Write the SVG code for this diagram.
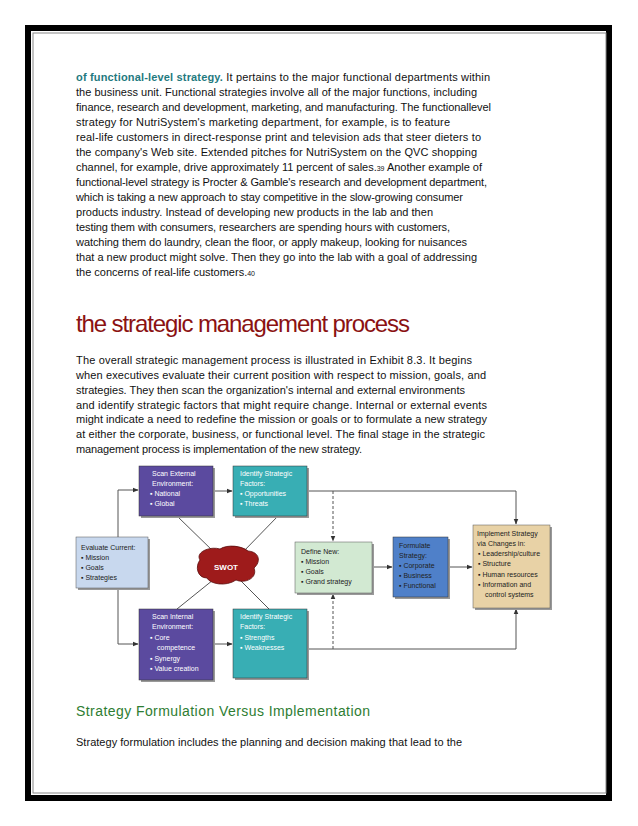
<svg xmlns="http://www.w3.org/2000/svg" width="638" height="826" viewBox="0 0 638 826">
<defs>
<style>
.b{font-family:"Liberation Sans",Arial,sans-serif;font-size:11px;fill:#111}
.t{font-family:"Liberation Sans",Arial,sans-serif;font-size:7px}
.w{fill:#fff}.k{fill:#222}
.c{stroke:#555;stroke-width:1;fill:none}
.sh{fill:#999}
</style>
<marker id="a" viewBox="0 0 10 10" refX="9" refY="5" markerWidth="6" markerHeight="6" orient="auto"><path d="M0 1L10 5L0 9z" fill="#333"/></marker>
</defs>
<rect width="638" height="826" fill="#fff"/>
<rect x="28" y="28" width="581" height="770" fill="none" stroke="#000" stroke-width="6"/>
<rect x="33" y="33" width="573" height="760" fill="none" stroke="#888" stroke-width="1"/>
<g id="text1">
<text class="b" x="76" y="81" textLength="414"><tspan fill="#1f7a80" font-weight="bold">of functional-level strategy.</tspan> It pertains to the major functional departments within</text>
<text class="b" x="76" y="96" textLength="401">the business unit. Functional strategies involve all of the major functions, including</text>
<text class="b" x="76" y="111" textLength="415">finance, research and development, marketing, and manufacturing. The functionallevel</text>
<text class="b" x="76" y="126" textLength="374">strategy for NutriSystem's marketing department, for example, is to feature</text>
<text class="b" x="76" y="141" textLength="405">real-life customers in direct-response print and television ads that steer dieters to</text>
<text class="b" x="76" y="156" textLength="401">the company's Web site. Extended pitches for NutriSystem on the QVC shopping</text>
<text class="b" x="76" y="171" textLength="406">channel, for example, drive approximately 11 percent of sales.<tspan font-size="7">39</tspan> Another example of</text>
<text class="b" x="76" y="186" textLength="411">functional-level strategy is Procter &amp; Gamble's research and development department,</text>
<text class="b" x="76" y="201" textLength="387">which is taking a new approach to stay competitive in the slow-growing consumer</text>
<text class="b" x="76" y="216" textLength="357">products industry. Instead of developing new products in the lab and then</text>
<text class="b" x="76" y="231" textLength="374">testing them with consumers, researchers are spending hours with customers,</text>
<text class="b" x="76" y="246" textLength="391">watching them do laundry, clean the floor, or apply makeup, looking for nuisances</text>
<text class="b" x="76" y="261" textLength="401">that a new product might solve. Then they go into the lab with a goal of addressing</text>
<text class="b" x="76" y="276" textLength="179">the concerns of real-life customers.<tspan font-size="7">40</tspan></text>
</g>
<text x="76" y="332" font-family="'Liberation Sans',Arial,sans-serif" font-size="24" fill="#8b1212" textLength="334">the strategic management process</text>
<g id="text2">
<text class="b" x="76" y="364" textLength="396">The overall strategic management process is illustrated in Exhibit 8.3. It begins</text>
<text class="b" x="76" y="379" textLength="410">when executives evaluate their current position with respect to mission, goals, and</text>
<text class="b" x="76" y="394" textLength="389">strategies. They then scan the organization's internal and external environments</text>
<text class="b" x="76" y="409" textLength="411">and identify strategic factors that might require change. Internal or external events</text>
<text class="b" x="76" y="423" textLength="411">might indicate a need to redefine the mission or goals or to formulate a new strategy</text>
<text class="b" x="76" y="438" textLength="409">at either the corporate, business, or functional level. The final stage in the strategic</text>
<text class="b" x="76" y="453" textLength="286">management process is implementation of the new strategy.</text>
</g>
<g id="connectors">
<path class="c" d="M118 537V490H138" marker-end="url(#a)"/>
<path class="c" d="M118 588V644H138" marker-end="url(#a)"/>
<path class="c" d="M213 491H232" marker-end="url(#a)"/>
<path class="c" d="M213 644H232" marker-end="url(#a)"/>
<path class="c" d="M307 491H516V524" marker-end="url(#a)"/>
<path class="c" d="M307 649H516V609" marker-end="url(#a)"/>
<path class="c" d="M333 491V541" stroke-dasharray="3 2" marker-end="url(#a)"/>
<path class="c" d="M333 649V594" stroke-dasharray="3 2" marker-end="url(#a)"/>
<path class="c" d="M372 567H392" marker-end="url(#a)"/>
<path class="c" d="M448 567H472" marker-end="url(#a)"/>
<path class="c" d="M177 516L215 553M278 516L242 553M177 609L213 580M269 609L240 580"/>
</g>
<g id="scanExt">
<rect class="sh" x="141" y="468" width="74" height="50"/>
<rect x="139" y="466" width="74" height="50" fill="#5b4a9f" stroke="#333" stroke-width="0.5"/>
<text class="t w" x="152" y="476">Scan External</text><text class="t w" x="152" y="486">Environment:</text>
<text class="t w" x="150" y="496">▪ National</text><text class="t w" x="150" y="506">▪ Global</text>
</g>
<g id="idOpp">
<rect class="sh" x="235" y="468" width="74" height="50"/>
<rect x="233" y="466" width="74" height="50" fill="#38aeb4" stroke="#333" stroke-width="0.5"/>
<text class="t w" x="240" y="476">Identify Strategic</text><text class="t w" x="240" y="486">Factors:</text>
<text class="t w" x="240" y="496">▪ Opportunities</text><text class="t w" x="240" y="506">▪ Threats</text>
</g>
<g id="evaluate">
<rect class="sh" x="78" y="539" width="72" height="51"/>
<rect x="76" y="537" width="72" height="51" fill="#c8d8ee" stroke="#555" stroke-width="0.5"/>
<text class="t k" x="81" y="550">Evaluate Current:</text>
<text class="t k" x="81" y="560">▪ Mission</text><text class="t k" x="81" y="570">▪ Goals</text><text class="t k" x="81" y="580">▪ Strategies</text>
</g>
<g id="swot">
<path d="M200 560C195 552 210 546 220 549C228 544 242 546 248 551C260 552 261 562 254 568C258 578 245 584 236 580C226 587 210 584 207 578C197 578 195 566 200 560Z" fill="#9e1b1b" stroke="#5a0d0d" stroke-width="0.8"/>
<text x="226" y="570" font-family="'Liberation Sans',Arial,sans-serif" font-size="8" font-weight="bold" fill="#fff" text-anchor="middle">SWOT</text>
</g>
<g id="scanInt">
<rect class="sh" x="141" y="611" width="74" height="71"/>
<rect x="139" y="609" width="74" height="71" fill="#5b4a9f" stroke="#333" stroke-width="0.5"/>
<text class="t w" x="152" y="619">Scan Internal</text><text class="t w" x="152" y="629">Environment:</text>
<text class="t w" x="150" y="640">▪ Core</text><text class="t w" x="157" y="650">competence</text>
<text class="t w" x="150" y="661">▪ Synergy</text><text class="t w" x="150" y="671">▪ Value creation</text>
</g>
<g id="idSW">
<rect class="sh" x="235" y="611" width="74" height="69"/>
<rect x="233" y="609" width="74" height="69" fill="#38aeb4" stroke="#333" stroke-width="0.5"/>
<text class="t w" x="240" y="619">Identify Strategic</text><text class="t w" x="240" y="629">Factors:</text>
<text class="t w" x="240" y="640">▪ Strengths</text><text class="t w" x="240" y="650">▪ Weaknesses</text>
</g>
<g id="define">
<rect class="sh" x="297" y="544" width="77" height="51"/>
<rect x="295" y="542" width="77" height="51" fill="#d2e9d2" stroke="#555" stroke-width="0.5"/>
<text class="t k" x="301" y="554">Define New:</text>
<text class="t k" x="301" y="564">▪ Mission</text><text class="t k" x="301" y="574">▪ Goals</text><text class="t k" x="301" y="584">▪ Grand strategy</text>
</g>
<g id="formulate">
<rect class="sh" x="395" y="539" width="55" height="60"/>
<rect x="393" y="537" width="55" height="60" fill="#4f80c9" stroke="#333" stroke-width="0.5"/>
<text class="t k" x="399" y="548">Formulate</text><text class="t k" x="399" y="558">Strategy:</text>
<text class="t k" x="399" y="568">▪ Corporate</text><text class="t k" x="399" y="578">▪ Business</text><text class="t k" x="399" y="588">▪ Functional</text>
</g>
<g id="implement">
<rect class="sh" x="475" y="527" width="77" height="83"/>
<rect x="473" y="525" width="77" height="83" fill="#e8d2a6" stroke="#555" stroke-width="0.5"/>
<text class="t k" x="477" y="536">Implement Strategy</text><text class="t k" x="477" y="546">via Changes in:</text>
<text class="t k" x="478" y="556">▪ Leadership/culture</text><text class="t k" x="478" y="566">▪ Structure</text>
<text class="t k" x="478" y="577">▪ Human resources</text><text class="t k" x="478" y="587">▪ Information and</text><text class="t k" x="485" y="597">control systems</text>
</g>
<text x="76" y="716" font-family="'Liberation Sans',Arial,sans-serif" font-size="14" fill="#2e7d32" textLength="294">Strategy Formulation Versus Implementation</text>
<text class="b" x="76" y="746" textLength="386">Strategy formulation includes the planning and decision making that lead to the</text>
</svg>
